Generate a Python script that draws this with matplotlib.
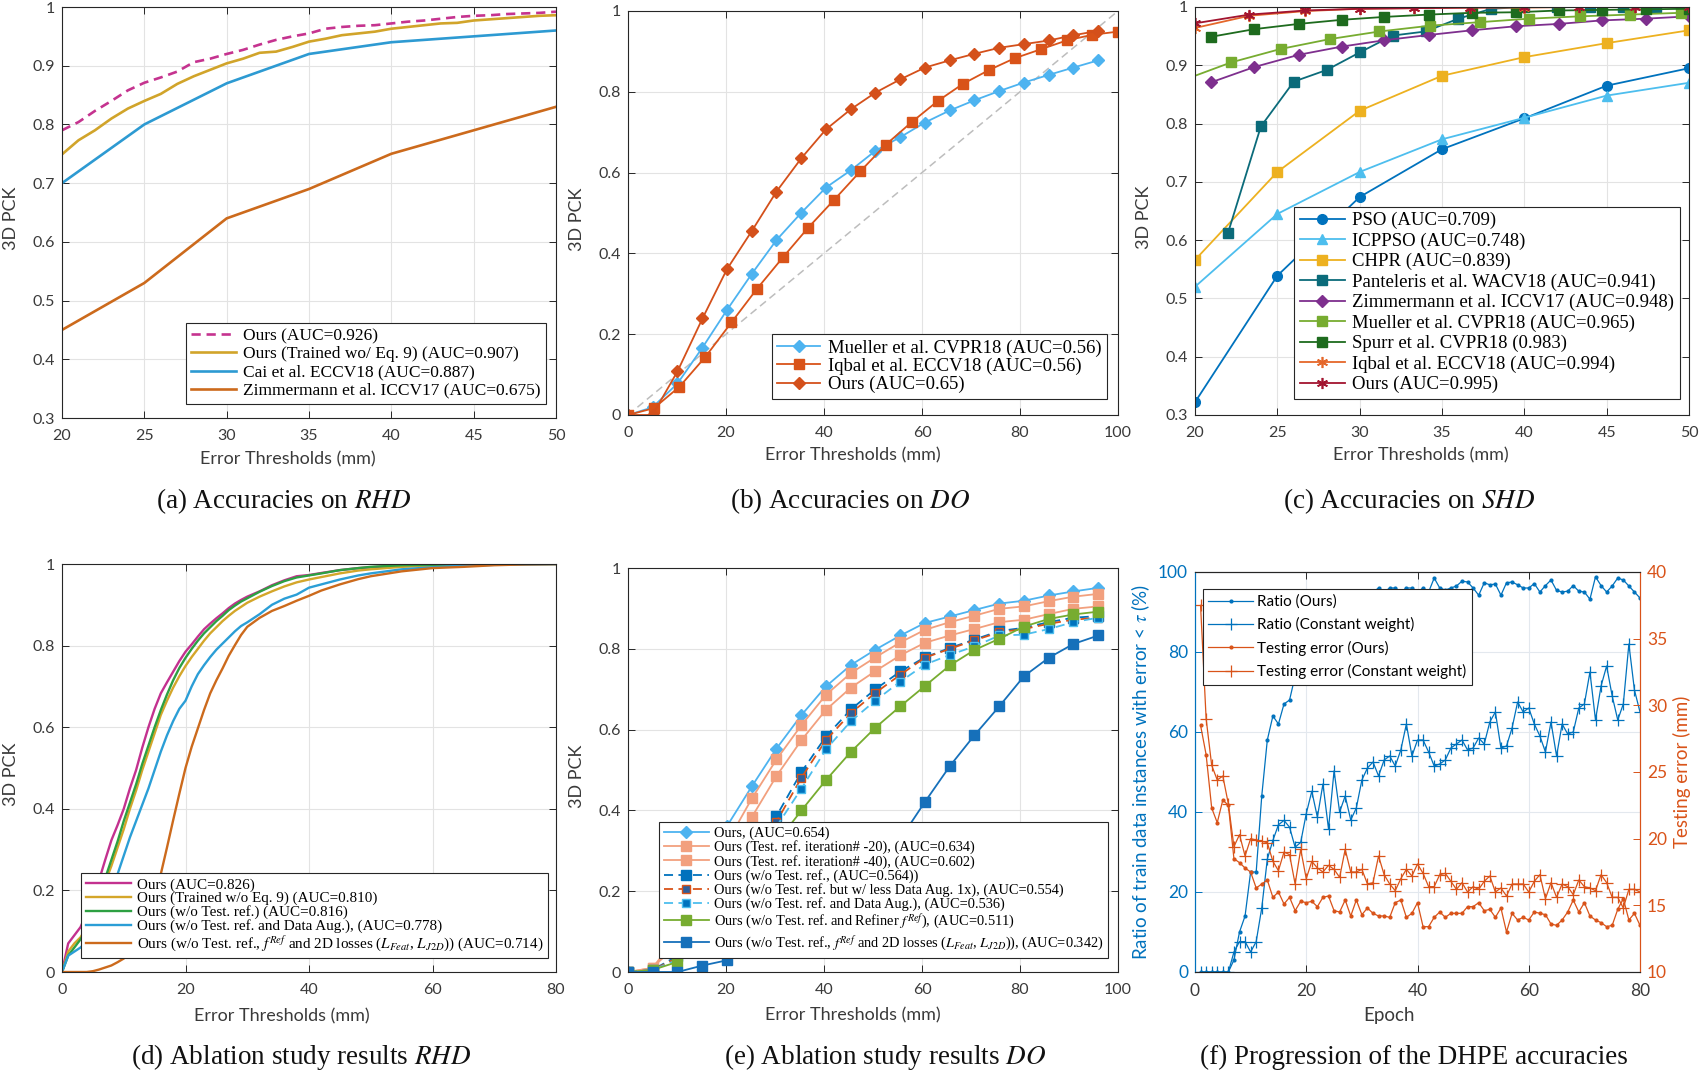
import numpy as np
import matplotlib
matplotlib.use("Agg")
import matplotlib.pyplot as plt
from matplotlib.ticker import FuncFormatter

# ---------------- DATA ----------------
# (a) RHD
a_x1 = list(range(20, 51))
a_ours = [0.79, 0.804, 0.823, 0.84, 0.858, 0.871, 0.88, 0.89, 0.906, 0.912, 0.92, 0.927, 0.936, 0.944, 0.95,
          0.955, 0.963, 0.966, 0.968, 0.969, 0.972, 0.975, 0.977, 0.98, 0.983, 0.985, 0.986, 0.988, 0.989, 0.99, 0.992]
a_wo = [0.749, 0.773, 0.79, 0.81, 0.827, 0.84, 0.852, 0.869, 0.882, 0.893, 0.904, 0.912, 0.922, 0.924, 0.932,
        0.941, 0.946, 0.952, 0.955, 0.958, 0.963, 0.966, 0.969, 0.972, 0.973, 0.977, 0.979, 0.981, 0.983, 0.985, 0.986]
a_x5 = [20, 25, 30, 35, 40, 45, 50]
a_cai = [0.70, 0.80, 0.87, 0.92, 0.94, 0.95, 0.96]
a_zim = [0.45, 0.53, 0.64, 0.69, 0.75, 0.79, 0.83]
a_labels = ["Ours (AUC=0.926)", "Ours (Trained wo/ Eq. 9) (AUC=0.907)",
            "Cai et al. ECCV18 (AUC=0.887)", "Zimmermann et al. ICCV17 (AUC=0.675)"]

# (b) DO
b_x = [0, 5, 10.1, 15.2, 20.2, 25.3, 30.3, 35.4, 40.4, 45.5, 50.5, 55.6, 60.6, 65.7, 70.7, 75.8, 80.8, 85.9, 90.9, 96.0]
b_mueller = [0, 0.019, 0.078, 0.167, 0.26, 0.35, 0.433, 0.501, 0.563, 0.606, 0.654, 0.688, 0.724, 0.754, 0.779,
             0.802, 0.823, 0.842, 0.86, 0.878]
b_ours = [0, 0, 0.108, 0.239, 0.361, 0.456, 0.553, 0.636, 0.707, 0.757, 0.798, 0.831, 0.86, 0.878, 0.894, 0.909,
          0.918, 0.927, 0.94, 0.951]
b_iqbal_x = [0, 5.3, 10.5, 15.8, 21.1, 26.3, 31.6, 36.8, 42.1, 47.4, 52.6, 57.9, 63.2, 68.4, 73.7, 78.9, 84.2,
             89.5, 94.7, 100]
b_iqbal = [0, 0.017, 0.07, 0.144, 0.229, 0.312, 0.39, 0.464, 0.533, 0.603, 0.669, 0.725, 0.777, 0.82, 0.854,
           0.883, 0.905, 0.927, 0.941, 0.949]
b_diag = [0, 100]
b_labels = ["Mueller et al. CVPR18 (AUC=0.56)", "Iqbal et al. ECCV18 (AUC=0.56)", "Ours (AUC=0.65)"]

# (c) SHD
c_x5 = [20, 25, 30, 35, 40, 45, 50]
c_pso = [0.322, 0.539, 0.674, 0.756, 0.809, 0.865, 0.895]
c_icppso = [0.52, 0.645, 0.717, 0.773, 0.81, 0.848, 0.87]
c_chpr = [0.566, 0.717, 0.822, 0.882, 0.914, 0.938, 0.96]
c_pant_x = [22, 24, 26, 28, 30, 32, 34, 36, 38, 40, 42, 44, 46, 48, 50]
c_pant = [0.612, 0.795, 0.872, 0.892, 0.922, 0.951, 0.958, 0.98, 0.997, 1.0, 1.0, 1.0, 1.0, 1.0, 1.0]
c_x12 = [21, 23.6, 26.3, 28.9, 31.5, 34.2, 36.8, 39.5, 42.1, 44.7, 47.4, 50]
c_zim = [0.871, 0.897, 0.918, 0.932, 0.943, 0.952, 0.96, 0.967, 0.971, 0.977, 0.98, 0.984]
c_spurr = [0.949, 0.962, 0.971, 0.978, 0.983, 0.987, 0.99, 0.991, 0.994, 0.995, 0.996, 0.997]
c_mueller_x = [20, 22.2, 25.2, 28.2, 31.2, 34.3, 37.3, 40.3, 43.4, 46.4, 49.5]
c_mueller = [0.882, 0.905, 0.928, 0.945, 0.958, 0.968, 0.974, 0.98, 0.984, 0.987, 0.99]
c_x10 = [20, 23.3, 26.7, 30, 33.3, 36.7, 40, 43.3, 46.7, 50]
c_iqbal = [0.964, 0.985, 0.993, 0.997, 0.998, 0.999, 0.999, 1.0, 1.0, 1.0]
c_ours = [0.972, 0.987, 0.994, 0.997, 0.998, 0.999, 1.0, 1.0, 1.0, 1.0]
c_labels = ["PSO (AUC=0.709)", "ICPPSO (AUC=0.748)", "CHPR (AUC=0.839)", "Panteleris et al. WACV18 (AUC=0.941)",
            "Zimmermann et al. ICCV17 (AUC=0.948)", "Mueller et al. CVPR18 (AUC=0.965)", "Spurr et al. CVPR18 (0.983)",
            "Iqbal et al. ECCV18 (AUC=0.994)", "Ours (AUC=0.995)"]

# (d) ablation RHD
d_x = [0, 1, 2, 3, 4, 5, 6, 7, 8, 9, 10, 11, 12, 13, 14, 15, 16, 17, 18, 19, 20, 21, 22, 23, 24, 25, 26, 27, 28,
       29, 30, 32, 34, 36, 38, 40, 42, 45, 48, 50, 55, 60, 65, 70, 75, 80]
d_ours = [0, 0.07, 0.09, 0.11, 0.145, 0.18, 0.225, 0.275, 0.323, 0.36, 0.40, 0.45, 0.495, 0.55, 0.6, 0.645, 0.683,
          0.71, 0.736, 0.762, 0.785, 0.803, 0.822, 0.84, 0.854, 0.867, 0.879, 0.892, 0.903, 0.912, 0.92, 0.933,
          0.948, 0.96, 0.97, 0.973, 0.978, 0.985, 0.99, 0.992, 0.997, 0.998, 0.999, 1, 1, 1]
d_wo9 = [0, 0.05, 0.07, 0.085, 0.11, 0.14, 0.18, 0.22, 0.26, 0.305, 0.35, 0.4, 0.445, 0.495, 0.54, 0.585, 0.63,
         0.665, 0.697, 0.725, 0.75, 0.772, 0.792, 0.812, 0.83, 0.845, 0.86, 0.873, 0.885, 0.895, 0.905, 0.92,
         0.933, 0.945, 0.955, 0.962, 0.968, 0.977, 0.984, 0.987, 0.993, 0.996, 0.998, 0.999, 1, 1]
d_noref = [0, 0.04, 0.06, 0.08, 0.105, 0.14, 0.185, 0.23, 0.275, 0.32, 0.37, 0.415, 0.46, 0.51, 0.555, 0.60, 0.642,
           0.68, 0.715, 0.745, 0.77, 0.792, 0.812, 0.83, 0.845, 0.86, 0.873, 0.887, 0.898, 0.908, 0.916, 0.932,
           0.946, 0.958, 0.967, 0.972, 0.977, 0.985, 0.99, 0.993, 0.997, 0.998, 0.999, 1, 1, 1]
d_noaug = [0, 0.04, 0.05, 0.06, 0.075, 0.095, 0.12, 0.155, 0.195, 0.24, 0.285, 0.33, 0.37, 0.41, 0.45, 0.495, 0.54,
           0.58, 0.615, 0.645, 0.665, 0.7, 0.73, 0.752, 0.772, 0.79, 0.805, 0.82, 0.835, 0.848, 0.857, 0.877, 0.9,
           0.915, 0.925, 0.942, 0.95, 0.962, 0.972, 0.977, 0.987, 0.992, 0.996, 0.998, 0.999, 1]
d_no2d = [0, 0, 0, 0, 0, 0.002, 0.006, 0.011, 0.016, 0.024, 0.033, 0.047, 0.065, 0.09, 0.13, 0.18, 0.24, 0.305,
          0.372, 0.437, 0.5, 0.552, 0.597, 0.642, 0.683, 0.715, 0.744, 0.775, 0.801, 0.826, 0.846, 0.868, 0.885,
          0.897, 0.91, 0.922, 0.935, 0.95, 0.963, 0.97, 0.982, 0.99, 0.993, 0.997, 0.999, 1]
d_labels = ["Ours (AUC=0.826)", "Ours (Trained w/o Eq. 9) (AUC=0.810)", "Ours (w/o Test. ref.) (AUC=0.816)",
            "Ours (w/o Test. ref. and Data Aug.), (AUC=0.778)",
            r"Ours (w/o Test. ref., $f^{Ref}$ and 2D losses ($L_{Feat}$, $L_{J2D}$)) (AUC=0.714)"]

# (e) ablation DO
e_x = [0, 5, 10.1, 15.2, 20.2, 25.3, 30.3, 35.4, 40.4, 45.5, 50.5, 55.6, 60.6, 65.7, 70.7, 75.8, 80.8, 85.9, 90.9, 96.0]
e_ours = [0, 0, 0.108, 0.239, 0.361, 0.46, 0.553, 0.636, 0.707, 0.76, 0.798, 0.833, 0.864, 0.88, 0.896, 0.912,
          0.919, 0.932, 0.942, 0.951]
e_it20 = [0, 0.01, 0.09, 0.21, 0.32, 0.43, 0.526, 0.611, 0.686, 0.74, 0.779, 0.816, 0.847, 0.866, 0.882, 0.899,
          0.905, 0.918, 0.929, 0.936]
e_it40 = [0, 0.01, 0.07, 0.18, 0.28, 0.384, 0.485, 0.574, 0.649, 0.704, 0.745, 0.784, 0.815, 0.833, 0.849, 0.866,
          0.872, 0.886, 0.899, 0.905]
e_noref = [0, 0.005, 0.04, 0.12, 0.22, 0.30, 0.386, 0.495, 0.583, 0.65, 0.70, 0.744, 0.779, 0.802, 0.823, 0.844,
           0.852, 0.866, 0.877, 0.881]
e_lessaug = [0, 0.005, 0.035, 0.11, 0.21, 0.29, 0.372, 0.481, 0.574, 0.641, 0.691, 0.736, 0.778, 0.80, 0.821,
             0.841, 0.849, 0.862, 0.872, 0.877]
e_noaug = [0, 0.005, 0.03, 0.10, 0.19, 0.27, 0.36, 0.454, 0.551, 0.621, 0.672, 0.719, 0.761, 0.785, 0.806, 0.833,
           0.835, 0.849, 0.866, 0.877]
e_norefiner = [0, 0.005, 0.025, 0.1, 0.19, 0.26, 0.32, 0.40, 0.475, 0.545, 0.605, 0.658, 0.708, 0.759, 0.797, 0.825,
               0.855, 0.874, 0.885, 0.892]
e_no2d = [0, 0, 0, 0.016, 0.029, 0.055, 0.085, 0.125, 0.17, 0.22, 0.27, 0.33, 0.421, 0.51, 0.586, 0.658, 0.732,
          0.778, 0.812, 0.833]
e_labels = ["Ours, (AUC=0.654)", "Ours (Test. ref. iteration# -20), (AUC=0.634)",
            "Ours (Test. ref. iteration# -40), (AUC=0.602)", "Ours (w/o Test. ref., (AUC=0.564))",
            "Ours (w/o Test. ref. but w/ less Data Aug. 1x), (AUC=0.554)",
            "Ours (w/o Test. ref. and Data Aug.), (AUC=0.536)",
            r"Ours (w/o Test. ref. and Refiner $f^{Ref}$), (AUC=0.511)",
            r"Ours (w/o Test. ref., $f^{Ref}$ and 2D losses ($L_{Feat}$, $L_{J2D}$)), (AUC=0.342)"]

# (f) progression
f_ratio_ours = [0, 0, 0, 0, 0, 0, 3, 10, 14, 25, 25, 44, 58, 64, 62, 67, 68, 74, 80, 85, 88, 90, 91, 92, 93, 93, 94,
                94, 95, 94, 95, 95, 96, 95, 96, 96, 95, 96, 96, 95, 96, 95, 98.5, 96, 95.5, 96, 96.5, 97.7, 97.5, 96,
                94.2, 97.3, 96.8, 97, 94.2, 97.3, 97.5, 96.8, 96, 96, 97.1, 95, 96.6, 98, 95.4, 95, 95.2, 96.6, 95.2,
                95, 93.2, 98.8, 96.6, 95, 96.5, 98.5, 98, 96.5, 95, 93.5]
f_ratio_const = [0, 0, 0, 0, 0, 0, 5, 7.6, 7.6, 5, 7.6, 16, 28.2, 32.9, 36.8, 37.9, 36.2, 31.2, 32.4, 39.6, 45.2,
                 38.7, 47, 35.8, 50.3, 40, 44, 38, 41, 48, 51, 52.5, 49, 53, 54, 51.5, 55.5, 62, 54, 58, 58, 55,
                 51.5, 52, 53, 56, 57, 58, 55.5, 56, 58.5, 57, 62.5, 65, 56, 56.5, 61, 67.5, 65, 66, 62, 59, 55,
                 62.5, 54, 62, 59.5, 60, 66, 67, 75, 63, 71.5, 76.5, 69, 63, 67, 82, 70.5, 65]
f_err_ours = [28.5, 26.3, 22.3, 21.2, 22.9, 22.5, 18.5, 18.2, 17.8, 17.5, 16.3, 16.6, 16.9, 15.6, 16.0, 15.1, 15.6,
              14.6, 15.3, 15.2, 15.3, 14.9, 15.6, 15.7, 14.6, 14.5, 15.4, 14.2, 15.4, 14.3, 14.8, 14.4, 14.2, 14.2,
              14.1, 15.2, 15.4, 14.1, 14.4, 15.2, 13.4, 13.4, 14.1, 14.5, 14.1, 14.4, 14.4, 14.4, 14.9, 14.9, 15.2,
              14.6, 14.7, 14.1, 14.8, 13.0, 14.4, 13.9, 14.1, 13.9, 14.5, 14.4, 14.3, 13.6, 13.5, 13.9, 14.5, 15.4,
              14.5, 15.2, 14.2, 13.9, 13.7, 13.4, 13.5, 14.7, 15.5, 13.9, 14.4, 13.5]
f_err_const = [37.5, 29.0, 25.5, 24.4, 24.7, 22.6, 19.4, 20.3, 18.7, 20.0, 19.9, 19.8, 19.7, 18.3, 17.6, 19.0, 18.8,
               16.6, 19.2, 17.0, 18.3, 17.8, 17.5, 18.0, 17.7, 17.1, 19.2, 17.5, 17.5, 17.7, 16.6, 16.7, 18.7, 17.3,
               16.6, 16.1, 17.0, 17.7, 17.2, 18.1, 17.4, 16.4, 16.4, 17.3, 17.4, 16.8, 16.2, 16.7, 16.0, 16.4, 16.2,
               16.8, 17.2, 16.0, 16.3, 15.7, 16.6, 16.6, 16.6, 16.0, 16.8, 17.3, 15.5, 16.7, 15.6, 16.6, 16.4, 15.8,
               16.9, 16.4, 16.3, 16.1, 17.3, 16.7, 15.6, 15.6, 14.8, 16.2, 16.2, 16.0]
f_labels = ["Ratio (Ours)", "Ratio (Constant weight)", "Testing error (Ours)", "Testing error (Constant weight)"]

captions = [r"(a) Accuracies on $\mathit{RHD}$", r"(b) Accuracies on $\mathit{DO}$",
            r"(c) Accuracies on $\mathit{SHD}$", r"(d) Ablation study results $\mathit{RHD}$",
            r"(e) Ablation study results $\mathit{DO}$", "(f) Progression of the DHPE accuracies"]

# ---------------- STYLE ----------------
plt.rcParams.update({
    "font.family": ["Lato", "DejaVu Sans"],
    "mathtext.fontset": "stix",
    "axes.edgecolor": "#262626",
    "axes.linewidth": 0.8,
    "xtick.direction": "in", "ytick.direction": "in",
    "xtick.top": True, "ytick.right": True,
    "xtick.major.size": 5, "ytick.major.size": 5,
    "xtick.major.width": 0.7, "ytick.major.width": 0.7,
    "xtick.color": "#262626", "ytick.color": "#262626",
    "xtick.labelcolor": "#3a3a3a", "ytick.labelcolor": "#3a3a3a",
    "xtick.labelsize": 11.5, "ytick.labelsize": 11.5,
    "xtick.major.pad": 8, "ytick.major.pad": 5,
    "axes.labelsize": 13, "axes.labelcolor": "#3a3a3a",
    "grid.color": "#e3e3e3", "grid.linewidth": 0.8,
})

W, H = 1702, 1072
fig = plt.figure(figsize=(W / 100, H / 100), dpi=100)


def rect(l, r, t, b):
    return [l / W, 1 - b / H, (r - l) / W, (b - t) / H]


fmt = FuncFormatter(lambda v, p: "%g" % round(v, 3))
SERIF = ["Liberation Serif", "DejaVu Serif"]


def setup(ax, xlim, ylim, xt, yt, xl=(0.458, -0.08), yl=(-0.088, 0.485)):
    ax.set_xlim(*xlim)
    ax.set_ylim(*ylim)
    ax.set_xticks(xt)
    ax.set_yticks(yt)
    ax.xaxis.set_major_formatter(fmt)
    ax.yaxis.set_major_formatter(fmt)
    ax.grid(True)
    ax.set_axisbelow(True)
    ax.set_xlabel("Error Thresholds (mm)")
    ax.set_ylabel("3D PCK")
    ax.xaxis.set_label_coords(*xl)
    ax.yaxis.set_label_coords(*yl)


def legend(ax, loc, anchor, fs, hl=2.6, ls=0.25, **kw):
    lg = ax.legend(loc=loc, bbox_to_anchor=anchor, prop={"family": SERIF, "size": fs}, handlelength=hl,
                   labelspacing=ls, borderpad=0.3, handletextpad=0.4, borderaxespad=0, fancybox=False,
                   framealpha=1, edgecolor="#262626", **kw)
    lg.get_frame().set_linewidth(0.8)
    return lg


# ---------------- (a) ----------------
ax = fig.add_axes(rect(62, 556, 7, 418))
ax.plot(a_x1, a_ours, color="#C5338F", lw=1.9, ls=(0, (3.5, 2.2)), label=a_labels[0])
ax.plot(a_x1, a_wo, color="#D1A42A", lw=1.9, label=a_labels[1])
ax.plot(a_x5, a_cai, color="#2D9AD2", lw=1.9, label=a_labels[2])
ax.plot(a_x5, a_zim, color="#CC6A1C", lw=1.9, label=a_labels[3])
setup(ax, (20, 50), (0.3, 1), range(20, 51, 5), np.arange(0.3, 1.01, 0.1))
legend(ax, "lower right", (0.98, 0.034), 12.5, ls=0.12)

# ---------------- (b) ----------------
ax = fig.add_axes(rect(628, 1118, 11, 415))
ax.plot(b_diag, [0, 1], color="#BDBDBD", lw=1.1, ls=(0, (5, 3)), zorder=1)
ax.plot(b_x, b_mueller, color="#4DB3F0", lw=1.3, marker="D", ms=6.5, label=b_labels[0])
ax.plot(b_iqbal_x, b_iqbal, color="#D95319", lw=1.3, marker="s", ms=6.5, label=b_labels[1])
ax.plot(b_x, b_ours, color="#D4501B", lw=1.3, marker="D", ms=6.5, label=b_labels[2])
setup(ax, (0, 100), (0, 1), range(0, 101, 20), np.arange(0, 1.01, 0.2))
legend(ax, "lower right", (0.978, 0.04), 13.5, hl=2.3, ls=0.05)

# ---------------- (c) ----------------
ax = fig.add_axes(rect(1195, 1689, 7, 415))
ast = (6, 2, 0)
ax.plot(c_x5, c_pso, color="#0072BD", lw=1.3, marker="o", ms=7, label=c_labels[0])
ax.plot(c_x5, c_icppso, color="#4DBEEE", lw=1.3, marker="^", ms=7.5, label=c_labels[1])
ax.plot(c_x5, c_chpr, color="#EDB120", lw=1.3, marker="s", ms=6.5, label=c_labels[2])
ax.plot(c_pant_x, c_pant, color="#0B6B7A", lw=1.3, marker="s", ms=6.5, label=c_labels[3])
ax.plot(c_x12, c_zim, color="#7E2F8E", lw=1.3, marker="D", ms=6.5, label=c_labels[4])
ax.plot(c_mueller_x, c_mueller, color="#77AC30", lw=1.3, marker="s", ms=6.5, markevery=list(range(1, len(c_mueller_x))),
        label=c_labels[5])
ax.plot(c_x12, c_spurr, color="#1E6B1E", lw=1.3, marker="s", ms=6.5, label=c_labels[6])
ax.plot(c_x10, c_iqbal, color="#E5672A", lw=1.3, marker=ast, ms=8, mew=1.2, label=c_labels[7])
ax.plot(c_x10, c_ours, color="#A2142F", lw=1.3, marker=ast, ms=8, mew=1.2, label=c_labels[8])
setup(ax, (20, 50), (0.3, 1), range(20, 51, 5), np.arange(0.3, 1.01, 0.1))
legend(ax, "lower right", (0.982, 0.039), 13.5, hl=2.4, ls=0.17)

# ---------------- (d) ----------------
ax = fig.add_axes(rect(62, 556, 564, 972))
ax.plot(d_x, d_ours, color="#C3318F", lw=1.7, label=d_labels[0])
ax.plot(d_x, d_wo9, color="#D4A62A", lw=1.7, label=d_labels[1])
ax.plot(d_x, d_noref, color="#2DA042", lw=1.7, label=d_labels[2])
ax.plot(d_x, d_noaug, color="#2B9ED6", lw=1.7, label=d_labels[3])
ax.plot(d_x, d_no2d, color="#CC6A1C", lw=1.7, label=d_labels[4])
setup(ax, (0, 80), (0, 1), range(0, 81, 20), np.arange(0, 1.01, 0.2), xl=(0.445, -0.088))
legend(ax, "lower right", (0.984, 0.034), 10.9, hl=3.0, ls=0.0)

# ---------------- (e) ----------------
ax = fig.add_axes(rect(628, 1118, 568, 972))
ax.plot(e_x, e_ours, color="#4DB3F0", lw=1.3, marker="D", ms=6.5, label=e_labels[0])
ax.plot(e_x, e_it20, color="#F2A07E", lw=1.3, marker="s", ms=6.5, label=e_labels[1])
ax.plot(e_x, e_it40, color="#F2A07E", lw=1.3, marker="s", ms=6.5, label=e_labels[2])
dash = (0, (5, 3))
ax.plot(e_x, e_noref, color="#0072BD", lw=1.3, ls=dash, marker="s", ms=6.5, label=e_labels[3])
ax.plot(e_x, e_lessaug, color="#D95319", lw=1.3, ls=dash, marker="s", ms=6, mfc="#2F5F9A", mec="#D95319",
        label=e_labels[4])
ax.plot(e_x, e_noaug, color="#4DBEEE", lw=1.3, ls=dash, marker="s", ms=6, mfc="#0072BD", mec="#4DBEEE",
        label=e_labels[5])
ax.plot(e_x, e_norefiner, color="#77AC30", lw=1.3, marker="s", ms=6.5, label=e_labels[6])
ax.plot(e_x, e_no2d, color="#1670BA", lw=1.3, marker="s", ms=6.5, label=e_labels[7])
setup(ax, (0, 100), (0, 1), range(0, 101, 20), np.arange(0, 1.01, 0.2), xl=(0.458, -0.088))
legend(ax, "lower right", (0.98, 0.035), 10.4, hl=3.1, ls=0.02)

# ---------------- (f) ----------------
BLUE, ORANGE = "#0072BD", "#D95319"
ax = fig.add_axes(rect(1195, 1640, 572, 972))
ax2 = ax.twinx()
ep1 = np.arange(1, len(f_ratio_ours) + 1)
ep2 = np.arange(1, len(f_ratio_const) + 1)
ep3 = np.arange(1, len(f_err_ours) + 1)
ep4 = np.arange(1, len(f_err_const) + 1)
l1, = ax.plot(ep1, f_ratio_ours, color=BLUE, lw=0.9, marker=".", ms=4, label=f_labels[0])
l2, = ax.plot(ep2, f_ratio_const, color=BLUE, lw=0.9, marker="+", ms=9, mew=0.9, label=f_labels[1])
l3, = ax2.plot(ep3, f_err_ours, color=ORANGE, lw=0.9, marker=".", ms=4, label=f_labels[2])
l4, = ax2.plot(ep4, f_err_const, color=ORANGE, lw=0.9, marker="+", ms=9, mew=0.9, label=f_labels[3])
ax.set_xlim(0, 80)
ax.set_ylim(0, 100)
ax.set_xticks(range(0, 81, 20))
ax.set_yticks(range(0, 101, 20))
ax2.set_ylim(10, 40)
ax2.set_yticks(range(10, 41, 5))
ax.grid(True, color="#e3e8ee")
ax.set_axisbelow(True)
ax.tick_params(axis="y", right=False, colors=BLUE, labelcolor=BLUE, labelsize=12.5)
ax.tick_params(axis="x", labelsize=12.5)
ax2.tick_params(axis="y", right=True, left=False, colors=ORANGE, labelcolor=ORANGE, labelsize=12.5)
ax.spines["left"].set_color(BLUE)
ax2.spines["left"].set_color(BLUE)
ax2.spines["right"].set_color(ORANGE)
ax.spines["right"].set_color(ORANGE)
ax.set_xlabel("Epoch", fontsize=13.5)
ax.xaxis.set_label_coords(0.437, -0.088)
ax.set_ylabel(r"Ratio of train data instances with error < $\tau$ (%)", color=BLUE, fontsize=13.5, labelpad=4)
ax2.set_ylabel("Testing error (mm)", color=ORANGE, fontsize=13.5, labelpad=4)
lg = ax2.legend(handles=[l1, l2, l3, l4], loc="upper left", bbox_to_anchor=(0.018, 0.957), fontsize=11,
                handlelength=2.9, labelspacing=0.55, borderpad=0.35, handletextpad=0.3, borderaxespad=0,
                fancybox=False, framealpha=1, edgecolor="#262626")
lg.get_frame().set_linewidth(0.8)
lg.set_zorder(10)

# ---------------- captions ----------------
cap_pos = [(284, 501), (850, 501), (1409, 501), (301, 1057), (885, 1057), (1414, 1057)]
for (cx, cy), txt in zip(cap_pos, captions):
    fig.text(cx / W, 1 - cy / H, txt, ha="center", va="center", fontsize=19.5, family=SERIF, color="#111111")

fig.savefig("out.png", dpi=100)
